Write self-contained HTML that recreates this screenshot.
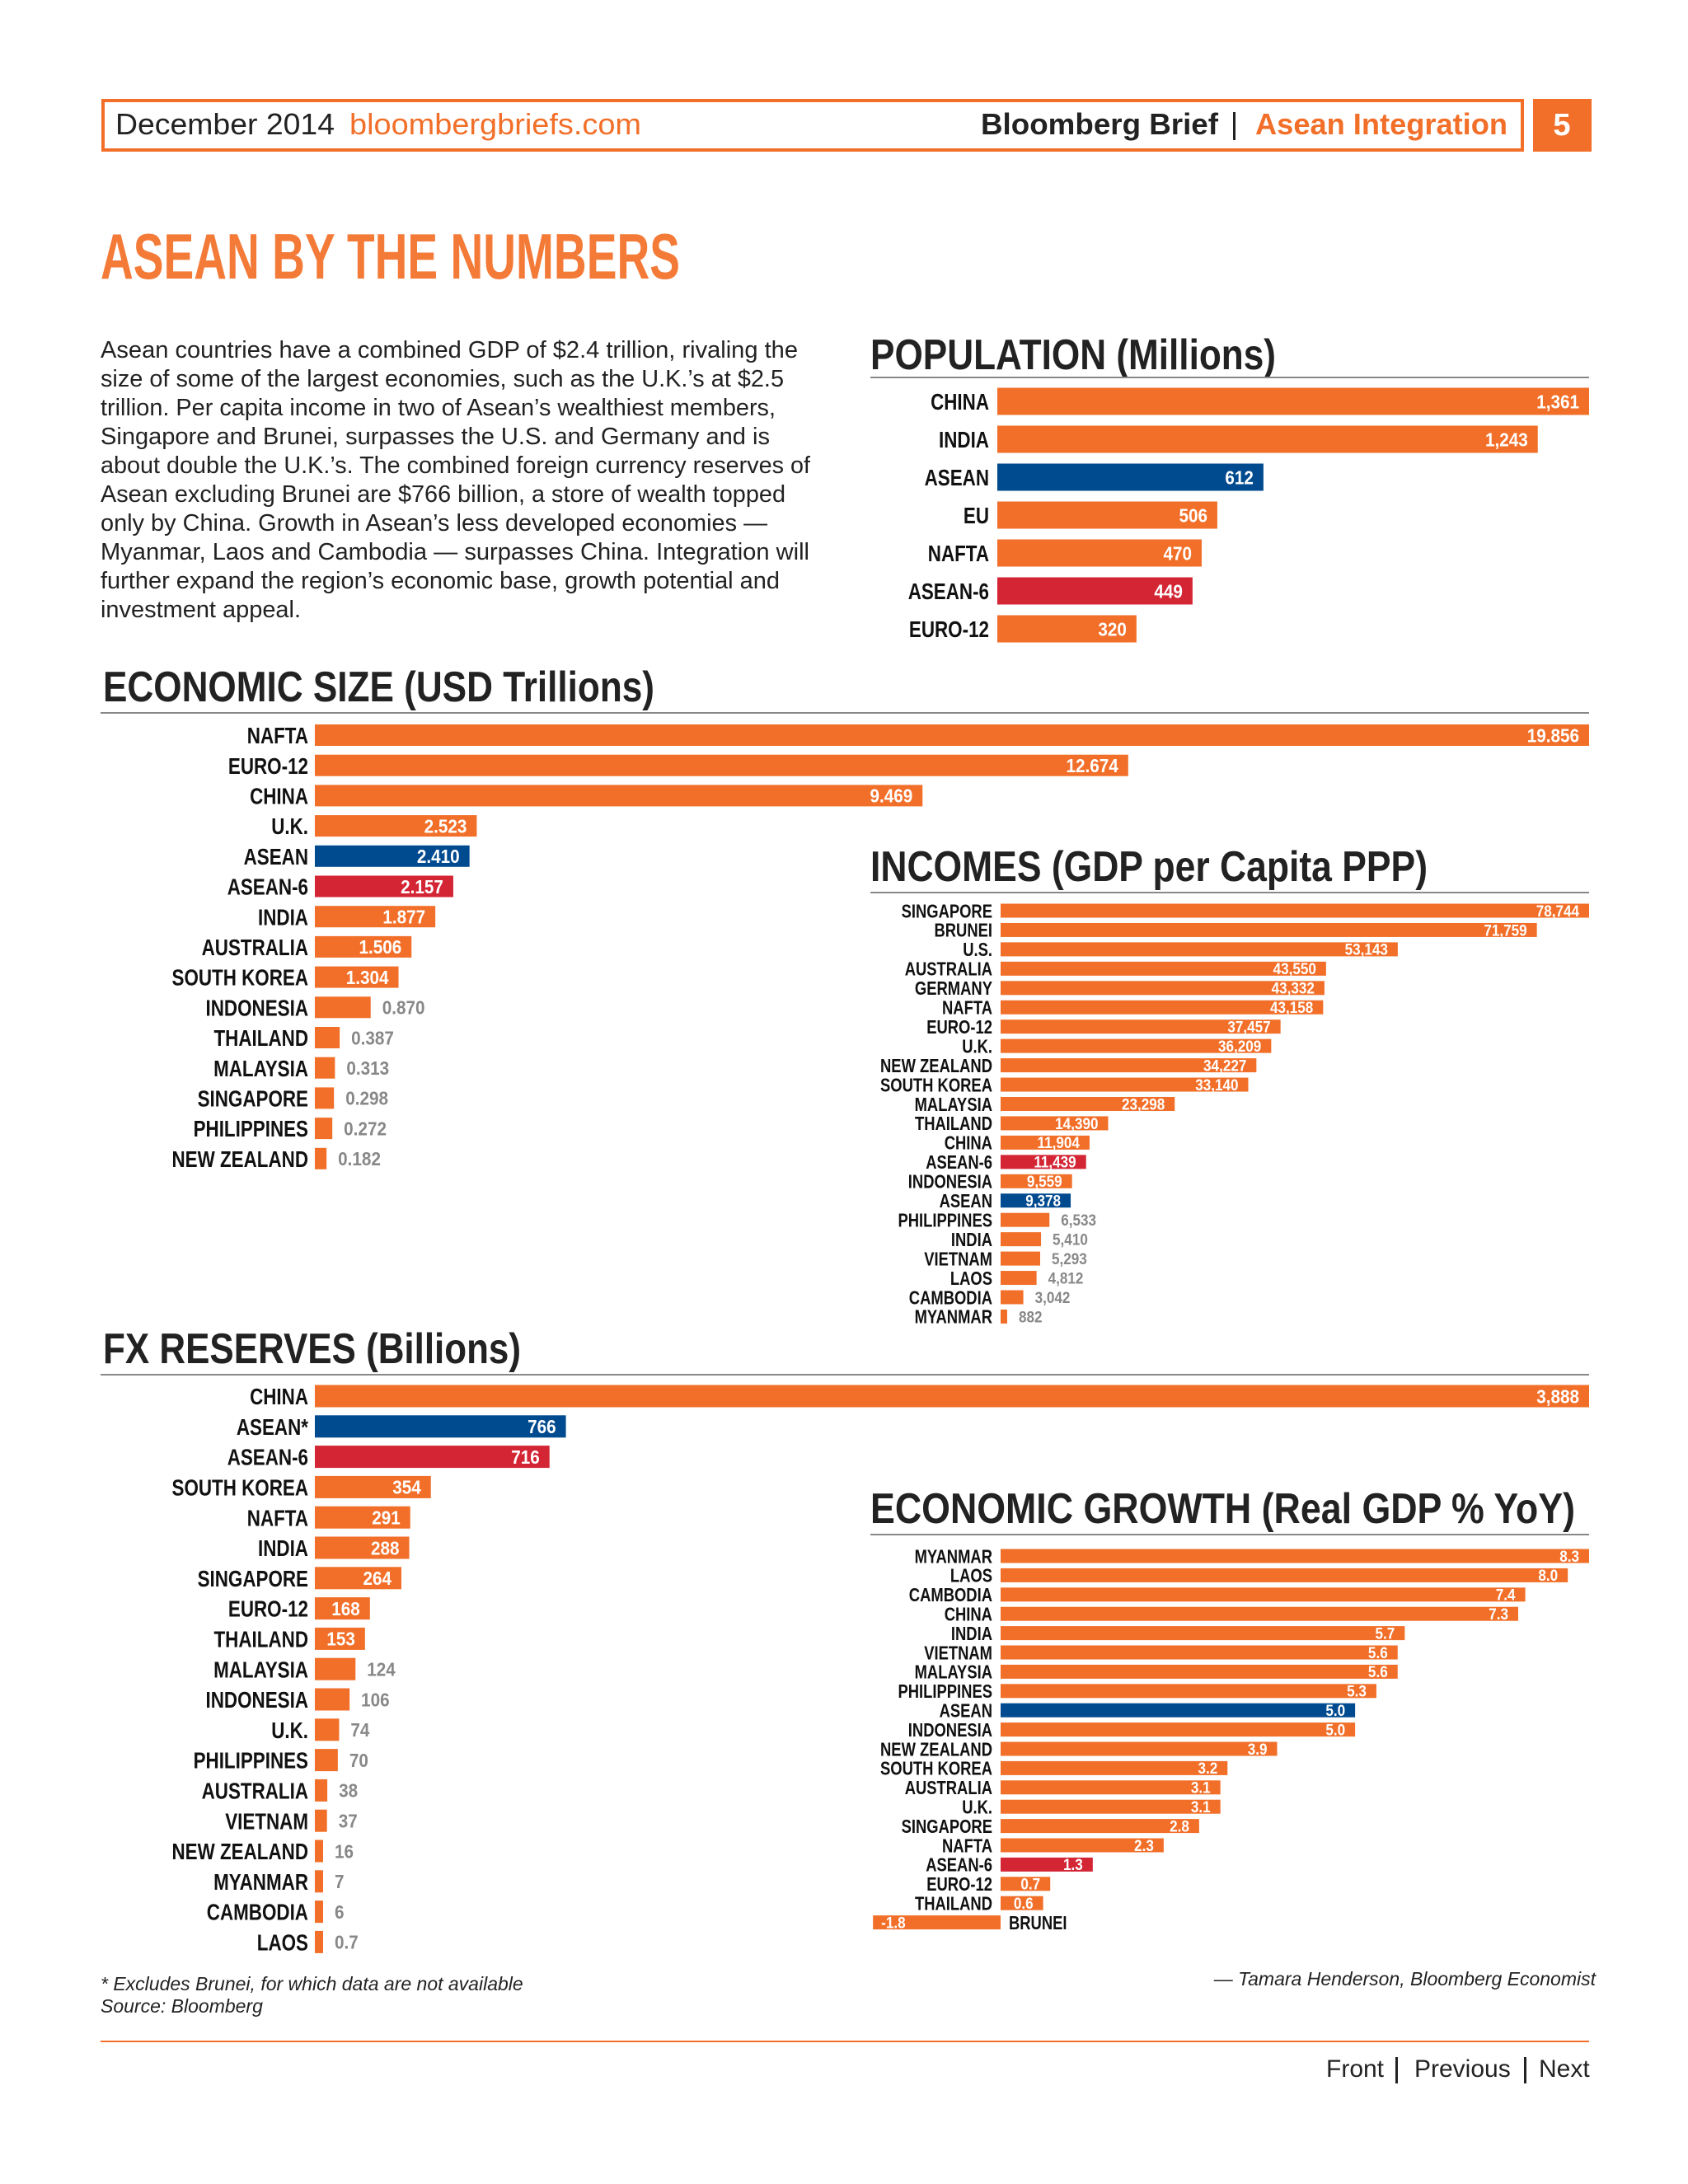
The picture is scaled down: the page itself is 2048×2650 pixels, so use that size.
<!DOCTYPE html>
<html><head><meta charset="utf-8">
<style>
html,body{margin:0;padding:0;background:#fff;}
svg{display:block;}
text{font-family:"Liberation Sans Narrow","Liberation Sans",sans-serif;}
.n{font-family:"Liberation Sans Narrow","Liberation Sans",sans-serif;font-weight:bold;}
.b{font-family:"Liberation Sans",sans-serif;}
</style></head>
<body>
<svg id="page" width="2048" height="2650" viewBox="0 0 2048 2650" xmlns="http://www.w3.org/2000/svg">
<rect x="0" y="0" width="2048" height="2650" fill="#fff"/>
<g>
<rect x="125" y="122" width="1722" height="60" fill="none" stroke="#f26f29" stroke-width="4"/>
<text class="b" x="140" y="163" font-size="36" fill="#222" textLength="266" lengthAdjust="spacingAndGlyphs">December 2014</text>
<text class="b" x="424" y="163" font-size="36" fill="#f26f29" textLength="354" lengthAdjust="spacingAndGlyphs">bloombergbriefs.com</text>
<text class="b" x="1190" y="163" font-size="36" font-weight="bold" fill="#222" textLength="288" lengthAdjust="spacingAndGlyphs">Bloomberg Brief</text>
<rect x="1496" y="136" width="3" height="34" fill="#222"/>
<text class="b" x="1523" y="163" font-size="36" font-weight="bold" fill="#f26f29" textLength="306" lengthAdjust="spacingAndGlyphs">Asean Integration</text>
<rect x="1860" y="120" width="71" height="64" fill="#f26f29"/>
<text class="b" x="1895" y="164" font-size="38" font-weight="bold" fill="#fff" text-anchor="middle">5</text>
</g>
<text class="n" x="122" y="338" font-size="78" fill="#f47a38" textLength="703" lengthAdjust="spacingAndGlyphs">ASEAN BY THE NUMBERS</text>
<g font-size="29" fill="#222">
<text class="b" x="122" y="434" textLength="846" lengthAdjust="spacingAndGlyphs">Asean countries have a combined GDP of $2.4 trillion, rivaling the</text>
<text class="b" x="122" y="469" textLength="829" lengthAdjust="spacingAndGlyphs">size of some of the largest economies, such as the U.K.’s at $2.5</text>
<text class="b" x="122" y="504" textLength="819" lengthAdjust="spacingAndGlyphs">trillion. Per capita income in two of Asean’s wealthiest members,</text>
<text class="b" x="122" y="539" textLength="812" lengthAdjust="spacingAndGlyphs">Singapore and Brunei, surpasses the U.S. and Germany and is</text>
<text class="b" x="122" y="574" textLength="861" lengthAdjust="spacingAndGlyphs">about double the U.K.’s. The combined foreign currency reserves of</text>
<text class="b" x="122" y="609" textLength="831" lengthAdjust="spacingAndGlyphs">Asean excluding Brunei are $766 billion, a store of wealth topped</text>
<text class="b" x="122" y="644" textLength="809" lengthAdjust="spacingAndGlyphs">only by China. Growth in Asean’s less developed economies —</text>
<text class="b" x="122" y="679" textLength="860" lengthAdjust="spacingAndGlyphs">Myanmar, Laos and Cambodia — surpasses China. Integration will</text>
<text class="b" x="122" y="714" textLength="824" lengthAdjust="spacingAndGlyphs">further expand the region’s economic base, growth potential and</text>
<text class="b" x="122" y="749" textLength="243" lengthAdjust="spacingAndGlyphs">investment appeal.</text>
</g>
<g fill="#222">
<text class="n" x="1056" y="448" font-size="52" textLength="492" lengthAdjust="spacingAndGlyphs">POPULATION (Millions)</text>
<rect x="1056" y="457" width="872" height="2" fill="#888"/>
<text class="n" x="125" y="851" font-size="52" textLength="669" lengthAdjust="spacingAndGlyphs">ECONOMIC SIZE (USD Trillions)</text>
<rect x="122" y="864" width="1806" height="2" fill="#888"/>
<text class="n" x="1056" y="1069" font-size="52" textLength="676" lengthAdjust="spacingAndGlyphs">INCOMES (GDP per Capita PPP)</text>
<rect x="1056" y="1082" width="872" height="2" fill="#888"/>
<text class="n" x="125" y="1654" font-size="52" textLength="507" lengthAdjust="spacingAndGlyphs">FX RESERVES (Billions)</text>
<rect x="122" y="1667" width="1806" height="2" fill="#888"/>
<text class="n" x="1056" y="1848" font-size="52" textLength="855" lengthAdjust="spacingAndGlyphs">ECONOMIC GROWTH (Real GDP % YoY)</text>
<rect x="1056" y="1861" width="872" height="2" fill="#888"/>
</g>
<g id="charts"></g>
<g fill="#222">
<text class="b" x="122" y="2415" font-size="23" font-style="italic">* Excludes Brunei, for which data are not available</text>
<text class="b" x="122" y="2442" font-size="23" font-style="italic">Source: Bloomberg</text>
<text class="b" x="1936" y="2409" font-size="23" font-style="italic" text-anchor="end">— Tamara Henderson, Bloomberg Economist</text>
<rect x="122" y="2476" width="1806" height="2" fill="#f26f29"/>
<text class="b" x="1609" y="2520" font-size="30">Front</text>
<rect x="1693" y="2496" width="3" height="32" fill="#222"/>
<text class="b" x="1716" y="2520" font-size="30">Previous</text>
<rect x="1849" y="2496" width="3" height="32" fill="#222"/>
<text class="b" x="1867" y="2520" font-size="30">Next</text>
</g>
</svg>
<script>
const ORANGE='#f26f29', BLUE='#004a8f', RED='#d42535';
const popNames=['CHINA','INDIA','ASEAN','EU','NAFTA','ASEAN-6','EURO-12'];
const popValues=[1361,1243,612,506,470,449,320];
const popLabels=['1,361','1,243','612','506','470','449','320'];
const gdpNames=['NAFTA','EURO-12','CHINA','U.K.','ASEAN','ASEAN-6','INDIA','AUSTRALIA','SOUTH KOREA','INDONESIA','THAILAND','MALAYSIA','SINGAPORE','PHILIPPINES','NEW ZEALAND'];
const gdpValues=[19.856,12.674,9.469,2.523,2.410,2.157,1.877,1.506,1.304,0.870,0.387,0.313,0.298,0.272,0.182];
const gdpLabels=['19.856','12.674','9.469','2.523','2.410','2.157','1.877','1.506','1.304','0.870','0.387','0.313','0.298','0.272','0.182'];
const incNames=['SINGAPORE','BRUNEI','U.S.','AUSTRALIA','GERMANY','NAFTA','EURO-12','U.K.','NEW ZEALAND','SOUTH KOREA','MALAYSIA','THAILAND','CHINA','ASEAN-6','INDONESIA','ASEAN','PHILIPPINES','INDIA','VIETNAM','LAOS','CAMBODIA','MYANMAR'];
const incValues=[78744,71759,53143,43550,43332,43158,37457,36209,34227,33140,23298,14390,11904,11439,9559,9378,6533,5410,5293,4812,3042,882];
const fxNames=['CHINA','ASEAN*','ASEAN-6','SOUTH KOREA','NAFTA','INDIA','SINGAPORE','EURO-12','THAILAND','MALAYSIA','INDONESIA','U.K.','PHILIPPINES','AUSTRALIA','VIETNAM','NEW ZEALAND','MYANMAR','CAMBODIA','LAOS'];
const fxValues=[3888,766,716,354,291,288,264,168,153,124,106,74,70,38,37,16,7,6,0.7];
const grNames=['MYANMAR','LAOS','CAMBODIA','CHINA','INDIA','VIETNAM','MALAYSIA','PHILIPPINES','ASEAN','INDONESIA','NEW ZEALAND','SOUTH KOREA','AUSTRALIA','U.K.','SINGAPORE','NAFTA','ASEAN-6','EURO-12','THAILAND','BRUNEI'];
const grValues=[8.3,8.0,7.4,7.3,5.7,5.6,5.6,5.3,5.0,5.0,3.9,3.2,3.1,3.1,2.8,2.3,1.3,0.7,0.6,-1.8];

function colorFor(n){ if(n==='ASEAN'||n==='ASEAN*') return BLUE; if(n==='ASEAN-6') return RED; return ORANGE; }
function fmt(v){ return v>=1000? v.toLocaleString('en-US') : String(v); }
function squeeze(t,f){ const w=t.getComputedTextLength(); if(w>0){ t.setAttribute('textLength',(w*f).toFixed(1)); t.setAttribute('lengthAdjust','spacingAndGlyphs'); } }
const NS='http://www.w3.org/2000/svg';
const root=document.getElementById('charts');

function drawChart(o){
  const g=document.createElementNS(NS,'g');
  
  
  root.appendChild(g);
  const scale=v=>o.x0+(v/o.vmax)*(o.x1-o.x0);
  o.names.forEach((n,i)=>{
    const v=o.values[i];
    const cy=o.y0+i*o.step;
    const xa=scale(Math.min(0,v)), xb=Math.max(scale(Math.max(0,v)), v>=0? o.x0+o.minw : 0);
    const r=document.createElementNS(NS,'rect');
    r.setAttribute('x',xa); r.setAttribute('y',cy-o.bh/2);
    r.setAttribute('width',Math.max(1,xb-xa)); r.setAttribute('height',o.bh);
    r.setAttribute('fill',colorFor(n));
    
    
    g.appendChild(r);
    const lab=document.createElementNS(NS,'text');
    lab.setAttribute('class','n');
    lab.setAttribute('font-size',o.lfs);
    lab.setAttribute('fill','#111');
    lab.setAttribute('y',cy+o.lfs*0.36);
    if(v<0){ lab.setAttribute('x',o.x0+10); }
    else { lab.setAttribute('x',o.x0-o.gap); lab.setAttribute('text-anchor','end'); }
    lab.textContent=n;
    
    
    g.appendChild(lab);
    squeeze(lab,0.8);
    const t=document.createElementNS(NS,'text');
    t.setAttribute('class','n');
    t.setAttribute('font-size',o.vfs);
    t.setAttribute('y',cy+o.vfs*0.36);
    const s=o.labels? o.labels[i] : (o.fixed!==undefined? v.toFixed(o.fixed) : fmt(v));
    if(v<0){ t.setAttribute('x',xa+10); t.setAttribute('fill','#fff'); }
    else if(xb-xa>=o.thresh){ t.setAttribute('x',xb-o.pad); t.setAttribute('text-anchor','end'); t.setAttribute('fill','#fff'); }
    else { t.setAttribute('x',xb+o.pad+2); t.setAttribute('fill','#888'); }
    t.textContent=s;
    
    
    g.appendChild(t);
    squeeze(t,0.9);
  });
}
drawChart({name:'population-chart',names:popNames,values:popValues,labels:popLabels,x0:1210,x1:1928,vmax:1361,y0:487,step:46,bh:33,lfs:28,vfs:23,gap:10,pad:12,thresh:60,minw:6});
drawChart({name:'economic-size-chart',names:gdpNames,values:gdpValues,labels:gdpLabels,x0:382,x1:1928,vmax:19.856,y0:892,step:36.7,bh:26,lfs:28,vfs:23,gap:8,pad:12,thresh:90,minw:10});
drawChart({name:'incomes-chart',names:incNames,values:incValues,x0:1214,x1:1928,vmax:78744,y0:1105,step:23.45,bh:17,lfs:23,vfs:19,gap:10,pad:12,thresh:70,minw:6});
drawChart({name:'fx-reserves-chart',names:fxNames,values:fxValues,x0:382,x1:1928,vmax:3888,y0:1694,step:36.8,bh:27,lfs:28,vfs:23,gap:8,pad:12,thresh:55,minw:10});
drawChart({name:'growth-chart',names:grNames,values:grValues,fixed:1,x0:1214,x1:1928,vmax:8.3,y0:1888,step:23.4,bh:17,lfs:23,vfs:19,gap:10,pad:12,thresh:40,minw:6});
</script>
</body></html>
